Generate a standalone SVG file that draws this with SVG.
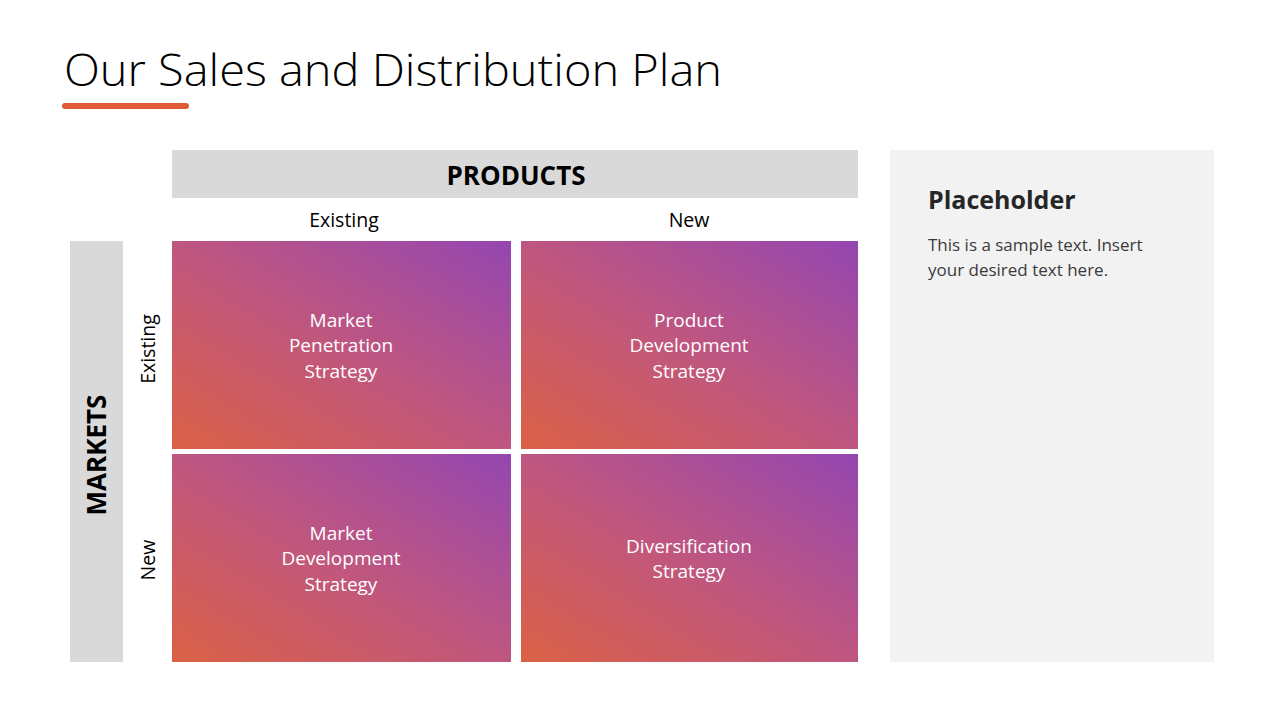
<svg xmlns="http://www.w3.org/2000/svg" width="1280" height="720" viewBox="0 0 1280 720">
<defs>
<linearGradient id="cellGrad" x1="0" y1="1" x2="1" y2="0">
<stop offset="0" stop-color="#DB6145"/>
<stop offset="0.5" stop-color="#BF5680"/>
<stop offset="1" stop-color="#9446B1"/>
</linearGradient>
<style>
.title{font-family:"Open Sans","Noto Sans",sans-serif;font-weight:350;font-size:44px;fill:#000}
.hdr{font-family:"Open Sans","Noto Sans",sans-serif;font-weight:700;font-size:26px;fill:#000}
.sub{font-family:"Open Sans","Noto Sans",sans-serif;font-size:19.5px;fill:#000}
.cell{fill:url(#cellGrad)}
.ct{font-family:"Open Sans","Noto Sans",sans-serif;font-size:19px;fill:#fff;text-anchor:middle}
.ph{font-family:"Open Sans","Noto Sans",sans-serif;font-weight:700;font-size:25px;fill:#262626}
.body{font-family:"Open Sans","Noto Sans",sans-serif;font-size:17px;fill:#3a3a3a}
</style>
</defs>
<rect width="1280" height="720" fill="#fff"/>
<g id="title">
<text class="title" x="64" y="86" textLength="658" lengthAdjust="spacingAndGlyphs">Our Sales and Distribution Plan</text>
<rect x="62" y="103" width="127" height="6" rx="3" fill="#E05A36"/>
</g>
<g id="products-header">
<rect x="172" y="150" width="686" height="48" fill="#D9D9D9"/>
<text class="hdr" x="516" y="185" text-anchor="middle">PRODUCTS</text>
</g>
<g id="col-existing"><text class="sub" x="344" y="227" text-anchor="middle">Existing</text></g>
<g id="col-new"><text class="sub" x="689" y="227" text-anchor="middle">New</text></g>
<g id="markets-header">
<rect x="70" y="241" width="53" height="421" fill="#D9D9D9"/>
<text class="hdr" transform="translate(106,455) rotate(-90)" text-anchor="middle">MARKETS</text>
</g>
<g id="row-existing"><text class="sub" transform="translate(155,349) rotate(-90)" text-anchor="middle">Existing</text></g>
<g id="row-new"><text class="sub" transform="translate(155,560) rotate(-90)" text-anchor="middle">New</text></g>
<g id="cell-market-penetration">
<rect class="cell" x="172" y="241" width="339" height="208"/>
<text class="ct" x="341"><tspan x="341" y="327">Market</tspan><tspan x="341" y="352">Penetration</tspan><tspan x="341" y="378">Strategy</tspan></text>
</g>
<g id="cell-product-development">
<rect class="cell" x="521" y="241" width="337" height="208"/>
<text class="ct" x="689"><tspan x="689" y="327">Product</tspan><tspan x="689" y="352">Development</tspan><tspan x="689" y="378">Strategy</tspan></text>
</g>
<g id="cell-market-development">
<rect class="cell" x="172" y="454" width="339" height="208"/>
<text class="ct" x="341"><tspan x="341" y="540">Market</tspan><tspan x="341" y="565">Development</tspan><tspan x="341" y="591">Strategy</tspan></text>
</g>
<g id="cell-diversification">
<rect class="cell" x="521" y="454" width="337" height="208"/>
<text class="ct" x="689"><tspan x="689" y="553">Diversification</tspan><tspan x="689" y="578">Strategy</tspan></text>
</g>
<g id="placeholder-panel">
<rect x="890" y="150" width="324" height="512" fill="#F2F2F2"/>
<text class="ph" x="928" y="209">Placeholder</text>
<text class="body"><tspan x="928" y="251">This is a sample text. Insert</tspan><tspan x="928" y="276">your desired text here.</tspan></text>
</g>
<g id="connectors"/>
</svg>
